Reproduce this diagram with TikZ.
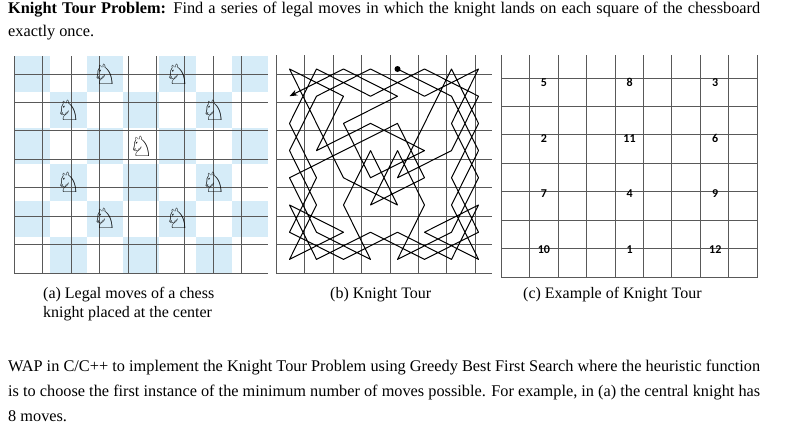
\documentclass[tikz,border=0pt]{standalone}
\usepackage{fontspec}
\setmainfont{Liberation Serif}
\newfontfamily\chessfont{DejaVu Sans}
\newfontfamily\numfont{Carlito}
\usetikzlibrary{arrows.meta}
\newcount\ktcx \newcount\ktcy \newcount\ktnx \newcount\ktny \newcount\ktmx \newcount\ktmy
\newcount\ktdeg \newcount\ktbest \newcount\ktbx \newcount\ktby \newcount\ktstep \newcount\ktk \newcount\ktj
\newif\ifktok
\def\ktmvx#1{\ifcase#1 1\or 2\or 2\or 1\or -1\or -2\or -2\or -1\fi}
\def\ktmvy#1{\ifcase#1 2\or 1\or -1\or -2\or -2\or -1\or 1\or 2\fi}
\def\ktcheck#1#2{\ktoktrue \ifnum#1<0 \ktokfalse\fi \ifnum#1>7 \ktokfalse\fi \ifnum#2<0 \ktokfalse\fi \ifnum#2>7 \ktokfalse\fi
 \ifktok \expandafter\ifx\csname ktv-\the#1-\the#2\endcsname\relax\else\ktokfalse\fi\fi}
\def\ktdegof{\ktdeg=0 \ktj=0 \ktdegloop}
\def\ktdegloop{\ifnum\ktj<8 \ktmx=\ktnx \advance\ktmx by \ktmvx\ktj\relax \ktmy=\ktny \advance\ktmy by \ktmvy\ktj\relax
 \ktcheck\ktmx\ktmy \ifktok\advance\ktdeg by1 \fi \advance\ktj by1 \expandafter\ktdegloop\fi}
\def\ktchoose{\ktbest=99 \ktk=0 \ktchooseloop}
\def\ktchooseloop{\ifnum\ktk<8 \ktnx=\ktcx \advance\ktnx by \ktmvx\ktk\relax \ktny=\ktcy \advance\ktny by \ktmvy\ktk\relax
 \ktcheck\ktnx\ktny \ifktok \ktdegof \ifnum\ktdeg<\ktbest \ktbest=\ktdeg \ktbx=\ktnx \ktby=\ktny \fi\fi
 \advance\ktk by1 \expandafter\ktchooseloop\fi}
\def\ktvisit{\expandafter\def\csname ktv-\the\ktcx-\the\ktcy\endcsname{1}}
\ktcx=4 \ktcy=7 \ktvisit
\edef\ktpath{(\the\ktcx.5,\the\ktcy.5)}
\ktstep=1
\loop\ifnum\ktstep<64
 \ktchoose
 \ifnum\ktbest<99 \ktcx=\ktbx \ktcy=\ktby \ktvisit \edef\ktpath{\ktpath -- (\the\ktcx.5,\the\ktcy.5)}\fi
 \advance\ktstep by1
\repeat
\begin{document}
\begin{tikzpicture}[x=1pt,y=1pt,
  gridline/.style={draw=black!65,line width=0.6pt},
  knight/.style={font=\chessfont\fontsize{28}{28}\selectfont,inner sep=0pt},
  num/.style={font=\numfont\bfseries\fontsize{12}{12}\selectfont},
  captext/.style={font=\fontsize{16}{19}\selectfont,align=left,anchor=north west,inner sep=0pt}]
\useasboundingbox (0,0) rectangle (787,-445);
% title
\node[anchor=north west,inner sep=0pt,text width=752pt,align=justify,font=\fontsize{16.3}{23}\selectfont] (title) at (8,-2)
 {\textbf{Knight Tour Problem:} Find a series of legal moves in which the knight lands on each square of the chessboard exactly once.};
% panel a
\begin{scope}[shift={(14,-273)},x=36.3pt,y=36.2pt]
 \foreach \r in {0,...,5}{\foreach \c in {0,...,6}{
   \pgfmathtruncatemacro\ktpar{mod(\r+\c,2)}
   \ifnum\ktpar=0 \fill[fill={rgb,255:red,214;green,236;blue,248}] (\c,5-\r) rectangle ++(1,1);\fi}}
 \draw[gridline] (0,0) grid (7,6);
 \foreach \r/\c in {0/2,0/4,1/1,1/5,2/3,3/1,3/5,4/2,4/4}
   \node[knight] (k\r\c) at (\c+0.5,5.5-\r) {♘};
\end{scope}
% panel b
\begin{scope}[shift={(276,-273)},x=27pt,y=27.2pt]
 \draw[gridline] (0,0) grid (8,8);
 \draw[line width=1pt,line join=round,-{Stealth[length=8pt]}] \ktpath;
 \fill (4.5,7.5) circle (3pt);
\end{scope}
% panel c
\begin{scope}[shift={(501,-277)},x=85.7pt,y=55.5pt]
 \draw[gridline] (0,0) grid (3,4);
 \foreach \v [count=\i from 0] in {5,8,3,2,11,6,7,4,9,10,1,12}{
   \pgfmathtruncatemacro\rr{\i/3}\pgfmathtruncatemacro\cc{mod(\i,3)}
   \node[num] (n\i) at (\cc+0.5,3.5-\rr) {\v};}
\end{scope}
\node[captext] (ca) at (43,-287) {(a) Legal moves of a chess\\knight placed at the center};
\node[captext] (cb) at (330,-287) {(b) Knight Tour};
\node[captext] (cc) at (523,-287) {(c) Example of Knight Tour};
\node[anchor=north west,inner sep=0pt,text width=752pt,align=justify,font=\fontsize{16.3}{25}\selectfont] (body) at (8,-360)
 {WAP in C/C++ to implement the Knight Tour Problem using Greedy Best First Search where the heuristic function is to choose the first instance of the minimum number of moves possible. For example, in (a) the central knight has 8 moves.};
\end{tikzpicture}
\end{document}
